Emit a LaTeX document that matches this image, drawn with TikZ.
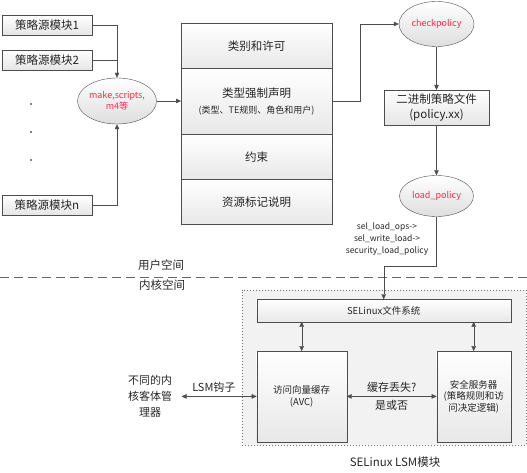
\documentclass[tikz,border=0pt]{standalone}
\usepackage{fontspec}
\newfontfamily\cjk{Noto Sans CJK SC}
\usetikzlibrary{shapes.geometric, arrows.meta, positioning}

\definecolor{linecol}{RGB}{77,77,77}
\definecolor{toolred}{RGB}{255,40,80}

\begin{document}
\begin{tikzpicture}[
    x=1pt, y=-1pt,
    every node/.style={font=\cjk\fontsize{11.5}{15.5}\selectfont, text=black!85},
    srcbox/.style={rectangle, draw=linecol, top color=white, bottom color=black!10, minimum width=90pt, minimum height=20pt, outer sep=0pt},
    rowbox/.style={rectangle, draw=linecol, top color=white, bottom color=black!9, minimum width=151pt, align=center, outer sep=0pt},
    tool/.style={ellipse, draw=linecol, top color=white, bottom color=black!13, inner sep=0pt, align=center, text=toolred, font=\cjk\fontsize{9}{11}\selectfont},
    kbox/.style={rectangle, draw=linecol, top color=white, bottom color=black!9, align=center, outer sep=0pt, font=\cjk\fontsize{9.5}{11.5}\selectfont},
    small/.style={font=\cjk\fontsize{9}{15.5}\selectfont},
    arrow/.style={draw=linecol, -{Triangle[length=5pt, width=4.5pt]}},
    dbarrow/.style={draw=linecol, {Triangle[length=5pt, width=4.5pt]}-{Triangle[length=5pt, width=4.5pt]}}
]
\useasboundingbox (0,0) rectangle (527,473);

% Policy source modules
\node[srcbox] (src1) at (47,25) {策略源模块1};
\node[srcbox] (src2) at (47,60) {策略源模块2};
\node[srcbox] (srcn) at (47,205) {策略源模块n};
\foreach \y in {104,132,160}
    \fill (31,\y) circle (0.9pt);
\node[tool, minimum width=67pt, minimum height=46pt] (make) at (117,101) {make,scripts,\\m4等};

% Policy source structure
\node[rowbox, minimum height=45.3pt] (classes) at (256.5,45.7) {类别和许可};
\node[rowbox, minimum height=66pt, below=0pt of classes] (types) {类型强制声明\\{\fontsize{9}{11}\selectfont (类型、TE规则、角色和用户)}};
\node[rowbox, minimum height=45pt, below=0pt of types] (constraints) {约束};
\node[rowbox, minimum height=44.7pt, below=0pt of constraints] (labels) {资源标记说明};

% Compile and load
\node[tool, minimum width=75pt, minimum height=45pt] (check) at (436.5,24) {checkpolicy};
\node[srcbox, minimum width=105pt, minimum height=35pt, align=center, font=\cjk\fontsize{11.5}{15}\selectfont] (binary) at (436.5,107.5) {二进制策略文件\\(policy.xx)};
\node[tool, minimum width=74pt, minimum height=41pt] (load) at (436.5,196) {load\_policy};
\node[align=center, font=\cjk\fontsize{8.5}{11.7}\selectfont] (calls) at (387,239) {sel\_load\_ops->\\sel\_write\_load->\\security\_load\_policy};

% User / kernel boundary
\draw[black!60, dash pattern=on 9pt off 5pt] (0,277) -- (527,277);
\node (user) at (161,265) {用户空间};
\node (kernel) at (162,285) {内核空间};

% SELinux LSM module
\node[rectangle, draw=black!55, fill=black!5, dash pattern=on 1pt off 2pt, minimum width=284.3pt, minimum height=155pt, outer sep=0pt] (lsm) at (383.9,367.5) {};
\node (lsmlabel) at (395,462.5) {SELinux LSM模块};
\node[kbox, minimum width=254pt, minimum height=22.4pt] (fs) at (383.7,310.5) {SELinux文件系统};
\node[kbox, minimum width=90pt, minimum height=90.7pt] (avc) at (301.7,396.4) {访问向量缓存\\(AVC)};
\node[kbox, minimum width=74pt, minimum height=90.7pt] (server) at (473.7,396.4) {安全服务器\\(策略规则和访\\问决定逻辑)};
\node[align=center, font=\cjk\fontsize{11}{15.8}\selectfont] (objmgr) at (150,396.4) {不同的内\\核客体管\\理器};

% Arrows
\draw[arrow] (src1.east) -| (make.north);
\draw[linecol] (src2.east) -- (src2.east -| make.north);
\draw[arrow] (srcn.east) -| (make.south);
\draw[arrow] (make.east) -- (make.east -| types.west);
\draw[arrow] (types.east) -- ++(28,0) |- (check.west);
\draw[arrow] (check) -- (binary);
\draw[arrow] (binary) -- (load);
\draw[arrow] (load.south) -- ++(0,49.5) -| (fs.north);
\draw[dbarrow] (avc.north |- fs.south) -- (avc.north);
\draw[dbarrow] (server.north |- fs.south) -- (server.north);
\draw[dbarrow] (avc.east) -- node[above, font=\cjk\fontsize{11}{13}\selectfont] {缓存丢失?} node[below, font=\cjk\fontsize{11}{13}\selectfont] {是或否} (server.west);
\draw[dbarrow] ([xshift=6pt]objmgr.east) -- node[above, pos=0.43, font=\cjk\fontsize{11}{13}\selectfont] {LSM钩子} (avc.west);

\end{tikzpicture}
\end{document}
